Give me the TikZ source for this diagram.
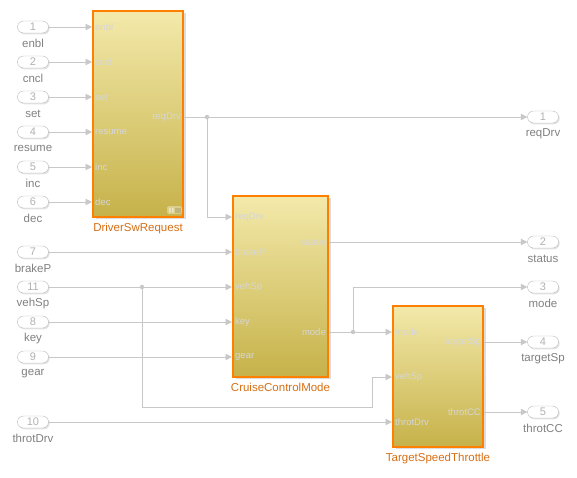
\documentclass[tikz,border=0pt]{standalone}
\usepackage{fontspec}
\setmainfont{Liberation Sans}
\usetikzlibrary{arrows.meta,shadows,positioning}
\definecolor{wire}{RGB}{200,200,200}
\definecolor{blkedge}{RGB}{255,128,0}
\definecolor{blkname}{RGB}{214,110,20}
\definecolor{pinlab}{RGB}{214,214,214}
\definecolor{iolab}{RGB}{128,128,128}
\definecolor{ionum}{RGB}{178,178,178}
\definecolor{filltop}{RGB}{243,233,170}
\definecolor{fillmid}{RGB}{234,221,150}
\definecolor{fillbot}{RGB}{198,178,74}
\begin{document}
\begin{tikzpicture}[x=1pt,y=-1pt,
    sig/.style={draw=wire,line width=0.8pt},
    arr/.style={sig,-{Triangle[length=6.5pt,width=6.5pt]}},
    port/.style={draw=gray!55,fill=white,rounded corners=6pt,minimum width=31pt,minimum height=12pt,
      inner sep=0pt,font=\fontsize{11}{11}\selectfont,text=ionum,
      drop shadow={shadow xshift=1.2pt,shadow yshift=-1.4pt,fill=gray!45}},
    portname/.style={font=\fontsize{11.5}{12}\selectfont,text=iolab,inner sep=0pt},
    blk/.style={draw=blkedge,line width=2pt,top color=filltop,middle color=fillmid,bottom color=fillbot,
      inner sep=0pt,drop shadow={shadow xshift=3pt,shadow yshift=-2pt,fill=gray!55}},
    pin/.style={font=\fontsize{9.5}{10}\selectfont,text=pinlab,inner sep=0pt},
    blkname/.style={font=\fontsize{11.5}{12}\selectfont,text=blkname,inner sep=1pt},
    dot/.style={circle,fill=wire,inner sep=0pt,minimum size=4.5pt}]
  \useasboundingbox (0,0) rectangle (577,477);

  % inports
  \foreach \n/\y/\t in {1/27/enbl,2/62/cncl,3/97/set,4/132/resume,5/167/inc,6/202/dec,
      7/252/brakeP,11/287/vehSp,8/322/key,9/357/gear,10/422/throtDrv}{
    \node[port] (in\n) at (33,\y) {\n};
    \node[portname] (in\n-name) at (33,\y+16.5) {\t};
  }

  % outports
  \foreach \n/\y/\t in {1/117/reqDrv,2/242/status,3/287/mode,4/342/targetSp,5/412/throtCC}{
    \node[port] (out\n) at (543,\y) {\n};
    \node[portname] (out\n-name) at (543,\y+16.5) {\t};
  }

  % blocks
  \node[blk,minimum width=90pt,minimum height=206pt] (dsr) at (138,114) {};
  \node[blkname,below=4pt of dsr] (dsr-name) {DriverSwRequest};
  \node[blk,minimum width=95pt,minimum height=181pt] (ccm) at (280.5,286.5) {};
  \node[blkname,below=4pt of ccm] (ccm-name) {CruiseControlMode};
  \node[blk,minimum width=90pt,minimum height=141pt] (tst) at (438,376.5) {};
  \node[blkname,below=4pt of tst] (tst-name) {TargetSpeedThrottle};

  % subsystem badge
  \fill[white,opacity=0.35,rounded corners=1.5pt] (167,206) rectangle (182,214);
  \fill[white,opacity=0.5] (169,207.5) rectangle (170.5,212.5) (172,207.5) rectangle (173.5,212.5);
  \fill[black,opacity=0.12] (175,207.5) rectangle (180.5,212.5);

  % pins
  \foreach \n/\t in {1/enbl,2/cncl,3/set,4/resume,5/inc,6/dec}
    \node[pin,anchor=west,xshift=3pt] (dsr-\t) at (dsr.west |- in\n) {\t};
  \node[pin,anchor=east,xshift=-3pt] (dsr-req) at (dsr.east |- 0,117) {reqDrv};

  \node[pin,anchor=west,xshift=3pt] (ccm-req) at (ccm.west |- 0,217) {reqDrv};
  \node[pin,anchor=west,xshift=3pt] (ccm-brake) at (ccm.west |- in7) {brakeP};
  \node[pin,anchor=west,xshift=3pt] (ccm-veh) at (ccm.west |- in11) {vehSp};
  \node[pin,anchor=west,xshift=3pt] (ccm-key) at (ccm.west |- in8) {key};
  \node[pin,anchor=west,xshift=3pt] (ccm-gear) at (ccm.west |- in9) {gear};
  \node[pin,anchor=east,xshift=-3pt] (ccm-status) at (ccm.east |- out2) {status};
  \node[pin,anchor=east,xshift=-3pt] (ccm-mode) at (ccm.east |- 0,332) {mode};

  \node[pin,anchor=west,xshift=3pt] (tst-mode) at (tst.west |- 0,332) {mode};
  \node[pin,anchor=west,xshift=3pt] (tst-veh) at (tst.west |- 0,377) {vehSp};
  \node[pin,anchor=west,xshift=3pt] (tst-throt) at (tst.west |- in10) {throtDrv};
  \node[pin,anchor=east,xshift=-3pt] (tst-target) at (tst.east |- out4) {targetSp};
  \node[pin,anchor=east,xshift=-3pt] (tst-cc) at (tst.east |- out5) {throtCC};

  % wires
  \foreach \n/\t in {1/enbl,2/cncl,3/set,4/resume,5/inc,6/dec}
    \draw[arr] (in\n) -- (dsr-\t -| dsr.west);
  \draw[arr] (in7) -- (ccm-brake -| ccm.west);
  \draw[arr] (in8) -- (ccm-key -| ccm.west);
  \draw[arr] (in9) -- (ccm-gear -| ccm.west);
  \draw[arr] (in10) -- (tst-throt -| tst.west);

  \node[dot] (j1) at (207,117) {};
  \draw[sig] (dsr-req -| dsr.east) -- (j1);
  \draw[arr] (j1) -- (out1);
  \draw[arr] (j1) |- (ccm-req -| ccm.west);

  \node[dot] (j2) at (142,287) {};
  \coordinate (k1) at (372,407);
  \draw[sig] (in11) -- (j2);
  \draw[arr] (j2) -- (ccm-veh -| ccm.west);
  \draw[arr] (j2) |- (k1) |- (tst-veh -| tst.west);

  \node[dot] (j3) at (353,332) {};
  \draw[sig] (ccm-mode -| ccm.east) -- (j3);
  \draw[arr] (j3) -- (tst-mode -| tst.west);
  \draw[arr] (j3) |- (out3);
  \draw[arr] (ccm-status -| ccm.east) -- (out2);

  \draw[arr] (tst-target -| tst.east) -- (out4);
  \draw[arr] (tst-cc -| tst.east) -- (out5);
\end{tikzpicture}
\end{document}
